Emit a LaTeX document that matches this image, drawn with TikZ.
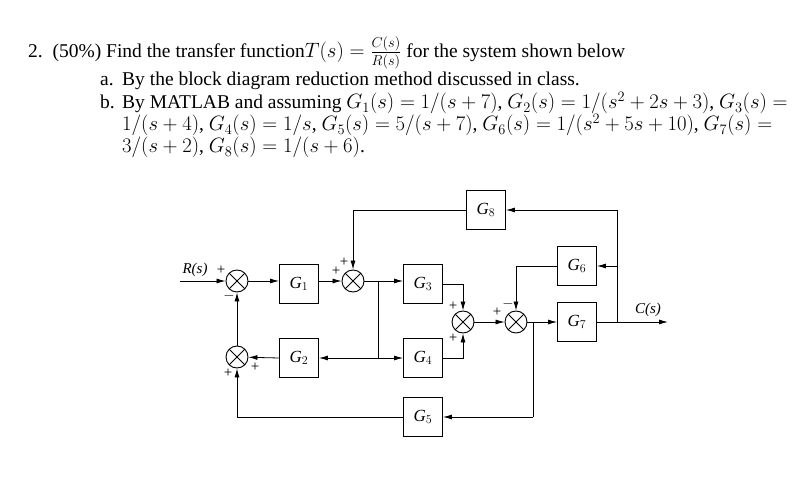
\documentclass[tikz,border=0pt]{standalone}
\usepackage{fontspec}
\setmainfont{Liberation Serif}
\usepackage{amsmath}
\usetikzlibrary{arrows.meta}
\begin{document}
\begin{tikzpicture}[x=1pt,y=-1pt,
  blk/.style={draw,line width=0.9pt,minimum width=39pt,minimum height=39pt,inner sep=0pt,font=\fontsize{17}{17}\selectfont\itshape},
  sum/.style={draw,circle,line width=0.9pt,minimum size=22pt,inner sep=0pt,path picture={\draw[line width=0.9pt] (path picture bounding box.south west)--(path picture bounding box.north east) (path picture bounding box.north west)--(path picture bounding box.south east);}},
  ln/.style={line width=0.8pt},
  ar/.style={line width=0.8pt,-{Latex[length=9pt,width=5pt]}},
  sg/.style={font=\fontsize{15}{15}\selectfont},
  sgi/.style={font=\fontsize{15}{15}\selectfont\itshape},
  txt/.style={anchor=base west,inner sep=0pt,font=\fontsize{19.5}{20}\selectfont}]
\useasboundingbox (0,0) rectangle (811,486);
% text
\node[txt] (t1) at (28,58) {2.\ \ (50\%) Find the transfer function$T(s)=\frac{C(s)}{R(s)}$ for the system shown below};
\node[txt] (ta) at (100,86) {a.};
\node[txt] (ta2) at (122,86) {By the block diagram reduction method discussed in class.};
\node[txt] (tb) at (100,109) {b.};
\node[txt] (tb1) at (122,109) {By MATLAB and assuming $G_1(s)=1/(s+7)$, $G_2(s)=1/(s^2+2s+3)$, $G_3(s)=$};
\node[txt] (tb2) at (122,131) {$1/(s+4)$, $G_4(s)=1/s$, $G_5(s)=5/(s+7)$, $G_6(s)=1/(s^2+5s+10)$, $G_7(s)=$};
\node[txt] (tb3) at (122,153) {$3/(s+2)$, $G_8(s)=1/(s+6)$.};
% blocks
\node[sum] (s1) at (237,281) {};
\node[blk] (g1) at (299,284) {G$_1$};
\node[sum] (s2) at (353,281) {};
\node[blk] (g3) at (423,284) {G$_3$};
\node[blk] (g2) at (299,358) {G$_2$};
\node[blk] (g4) at (423,358) {G$_4$};
\node[sum] (s4) at (237,357) {};
\node[blk] (g5) at (423,417) {G$_5$};
\node[blk] (g8) at (486,210) {G$_8$};
\node[sum] (s3) at (463,322) {};
\node[sum] (s5) at (516,322) {};
\node[blk] (g6) at (577,266) {G$_6$};
\node[blk] (g7) at (577,322) {G$_7$};
\coordinate (rin) at (180,281);
\coordinate (b1) at (378,281);
\coordinate (b2) at (533,322);
\coordinate (b3) at (617,322);
\coordinate (cout) at (668,322);
% connectors
\draw[ar] (rin) -- (s1);
\draw[ar] (s1) -- (g1.west|-s1);
\draw[ar] (g1.east|-s2) -- (s2);
\draw[ar] (s2) -- (g3.west|-s2);
\draw[ln] (b1) -- (b1|-g4);
\draw[ar] (b1|-g4) -- (g4.west);
\draw[ar] (b1|-g2) -- (g2.east);
\draw[ar] (g2.west) -- (s4);
\draw[ar] (s4) -- (s1);
\draw[ar] (g3.east) -| (s3);
\draw[ar] (g4.east) -| (s3);
\draw[ar] (s3) -- (s5);
\draw[ar] (s5) -- (g7);
\draw[ln] (g7) -- (b3);
\draw[ar] (b3) -- (cout);
\draw[ar] (b3) |- (g8.east);
\draw[ar] (b3|-g6) -- (g6.east);
\draw[ar] (g6.west) -| (s5);
\draw[ar] (g8.west) -| (s2);
\draw[ln] (b2) |- (b2|-g5);
\draw[ar] (b2|-g5) -- (g5.east);
\draw[ar] (g5.west) -| (s4);
% signs
\node[sgi] (rl) at (195,270) {R(s)};
\node[sg] (p1) at (221,270) {+};
\node[sg] (m1) at (229,296) {$-$};
\node[sg] (p2) at (336,271) {+};
\node[sg] (p2b) at (344,262) {+};
\node[sg] (p3a) at (453,306) {+};
\node[sg] (p3b) at (453,338) {+};
\node[sg] (p5a) at (497,312) {+};
\node[sg] (m5) at (508,304) {$-$};
\node[sg] (p4a) at (255,367) {+};
\node[sg] (p4b) at (228,373) {+};
\node[sgi] (cl) at (648,310) {C(s)};
\end{tikzpicture}
\end{document}
